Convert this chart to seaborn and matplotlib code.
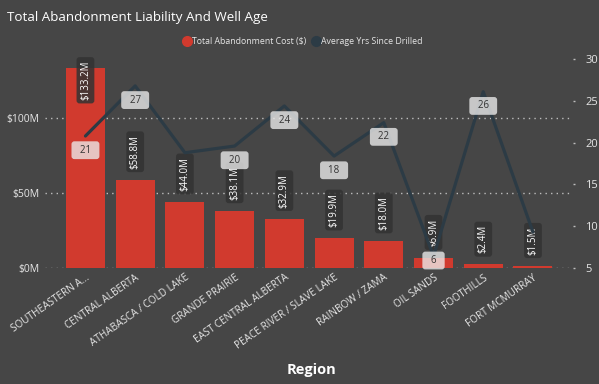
import numpy as np
import pandas as pd
import seaborn as sns
import matplotlib.pyplot as plt
from matplotlib.lines import Line2D

# ------------------------------
# DATA
# ------------------------------

regions = [
    "SOUTHEASTERN A...", "CENTRAL ALBERTA", "ATHABASCA / COLD LAKE",
    "GRANDE PRAIRIE", "EAST CENTRAL ALBERTA", "PEACE RIVER / SLAVE LAKE",
    "RAINBOW / ZAMA", "OIL SANDS", "FOOTHILLS", "FORT MCMURRAY",
]
cost_musd = [133.2, 58.8, 44.0, 38.1, 32.9, 19.9, 18.0, 6.9, 2.4, 1.5]
avg_years = [20.8, 26.8, 18.8, 19.6, 24.4, 18.4, 22.4, 6.4, 26.1, 9.3]
show_year_label = [True, True, False, True, True, True, True, True, True, False]

left_ticks = [0, 50, 100]
left_ticklabels = ["$0M", "$50M", "$100M"]
right_ticks = [5, 10, 15, 20, 25, 30]

# ------------------------------
# STYLE
# ------------------------------

BG = "#464646"
BAR = "#d13a2e"
LINE = "#2c3b45"
TXT = "#e6e6e6"

sns.set_theme(style="dark")
plt.rcParams["font.family"] = ["Open Sans", "DejaVu Sans"]

df = pd.DataFrame({"region": regions, "cost": cost_musd, "years": avg_years})

fig = plt.figure(figsize=(5.99, 3.84), dpi=100, facecolor=BG)
ax = fig.add_axes([0.075, 0.302, 0.882, 0.544], facecolor=BG)

sns.barplot(data=df, x="region", y="cost", color=BAR, saturation=1,
            width=0.785, linewidth=0, edgecolor="none", ax=ax, zorder=2)

ymax_left = 139.3
ax.set_xlim(-0.815, 9.81)
ax.set_ylim(0, ymax_left)
ax.set_yticks(left_ticks)
ax.set_yticklabels(left_ticklabels, color=TXT, fontsize=7.5)
ax.set_xticks(range(len(regions)))
ax.set_xticklabels(regions, rotation=35, ha="right", rotation_mode="anchor",
                   color=TXT, fontsize=7.2)
ax.tick_params(axis="x", length=0, pad=3)
ax.tick_params(axis="y", length=0, pad=4)
ax.set_xlabel("")
ax.set_ylabel("")
for y in left_ticks:
    ax.axhline(y, color="#bdbdbd", lw=1, ls=(0, (1, 3)), zorder=1)
for s in ax.spines.values():
    s.set_visible(False)

# bar labels
for i, v in enumerate(cost_musd):
    lab = f"${v:.1f}M"
    box = dict(boxstyle="round,pad=0.35,rounding_size=0.3", fc="#333333",
               ec="none", alpha=0.85)
    if v + 31 > ymax_left:
        ax.annotate(lab, (i, ymax_left), xytext=(0, -1), textcoords="offset points",
                    rotation=90, ha="center", va="top", color="white",
                    fontsize=7, bbox=box, zorder=3)
    else:
        ax.annotate(lab, (i, v), xytext=(0, 8), textcoords="offset points",
                    rotation=90, ha="center", va="bottom", color="white",
                    fontsize=7, bbox=box, zorder=3)

# ------------------------------
# LINE (RIGHT AXIS)
# ------------------------------

ax2 = ax.twinx()
sns.lineplot(x=np.arange(len(regions)), y=avg_years, color=LINE, lw=2.3,
             ax=ax2, zorder=4)
ax2.set_ylim(5, 30)
ax2.set_yticks(right_ticks)
ax2.set_yticklabels([str(t) for t in right_ticks], color=TXT, fontsize=8)
ax2.tick_params(axis="y", length=1.5, width=1, color="#bdbdbd", pad=7)
ax2.grid(False)
for s in ax2.spines.values():
    s.set_visible(False)

for i, v in enumerate(avg_years):
    if not show_year_label[i]:
        continue
    ly = max(v - 1.7, 5.9)
    ax2.text(i, ly, f"  {round(v)}  ", ha="center", va="center", color="#333333",
             fontsize=7, zorder=6,
             bbox=dict(boxstyle="round,pad=0.35,rounding_size=0.3",
                       fc="#ececec", ec="none", alpha=0.78))

# ------------------------------
# TITLE, AXIS NAME AND LEGEND
# ------------------------------

fig.text(0.011, 0.955, "Total Abandonment Liability And Well Age",
         color="white", fontsize=9.6, ha="left", va="center")
fig.text(0.52, 0.036, "Region", color="white", fontsize=10.5,
         fontweight="bold", ha="center", va="center")

handles = [
    Line2D([], [], ls="", marker="o", ms=7, color=BAR),
    Line2D([], [], ls="", marker="o", ms=7, color=LINE),
]
fig.legend(handles, ["Total Abandonment Cost ($)", "Average Yrs Since Drilled"],
           loc="center", bbox_to_anchor=(0.505, 0.893), ncol=2, frameon=False,
           fontsize=6.3, labelcolor=TXT, handletextpad=0.05,
           columnspacing=0.6, handlelength=1)

fig.savefig("out.png", dpi=100, facecolor=BG)
